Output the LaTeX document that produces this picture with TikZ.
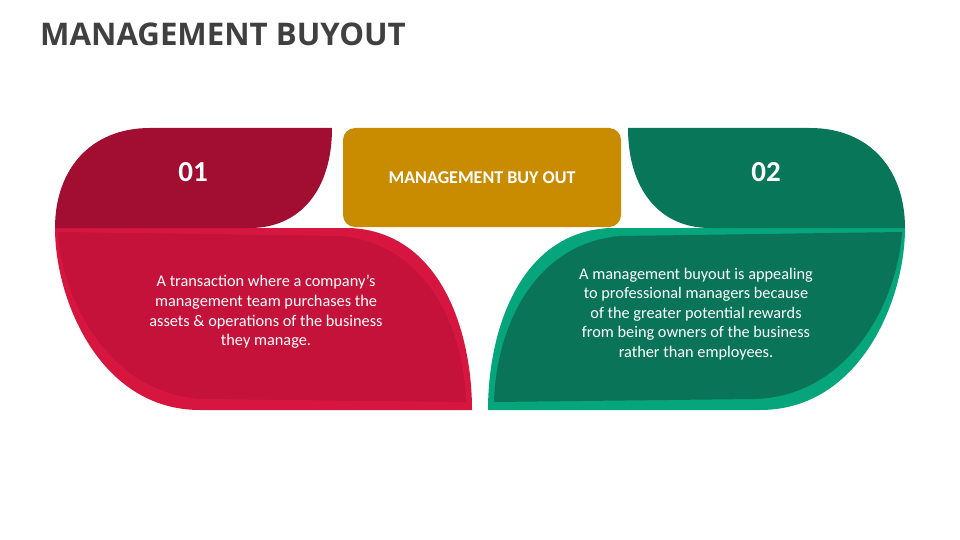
\documentclass[tikz,border=0pt]{standalone}
\usepackage{fontspec}
\setmainfont{Carlito}
\newfontfamily\titlefont{Open Sans}
\definecolor{ttl}{HTML}{404040}
\definecolor{redtop}{HTML}{A10E32}
\definecolor{redout}{HTML}{D7163F}
\definecolor{redin}{HTML}{C4123A}
\definecolor{grtop}{HTML}{087658}
\definecolor{grout}{HTML}{07A57B}
\definecolor{grin}{HTML}{0A7459}
\definecolor{gold}{HTML}{C98B00}
\begin{document}
\begin{tikzpicture}[x=1pt,y=-1pt,
  body/.style={text=white,align=center,font=\fontsize{16.3}{19.6}\selectfont},
  num/.style={text=white,font=\bfseries\fontsize{29}{32}\selectfont}]
\useasboundingbox (0,0) rectangle (960,540);
\node[anchor=west,text=ttl,font=\titlefont\bfseries\fontsize{31.2}{34}\selectfont,inner sep=0pt] (title) at (40,34) {MANAGEMENT BUYOUT};
\foreach \sx/\ct/\co/\ci in {1/redtop/redout/redin,-1/grtop/grout/grin}{
\begin{scope}[xshift={(\sx==1?0:960)*1pt},xscale=\sx]
\fill[\co] (55,228) -- (350,228) .. controls (440,232) and (472,330) .. (472,410) -- (200,410) .. controls (100,410) and (55,300) .. (55,228) -- cycle;
\fill[\ci] (58,232) -- (340,236) .. controls (428,244) and (464,330) .. (466,402) -- (205,399) .. controls (110,396) and (62,300) .. (58,232) -- cycle;
\fill[\ct] (55,228) .. controls (55,170) and (90,128) .. (150,128) -- (332,128) .. controls (332,190) and (300,228) .. (250,228) -- cycle;
\end{scope}}
\fill[gold,rounded corners=12] (343,128) rectangle (621,227);
\node[text=white,font=\bfseries\fontsize{18}{20}\selectfont] (mid) at (482,178) {MANAGEMENT BUY OUT};
\node[num] (n1) at (193,172) {01};
\node[num] (n2) at (766,172) {02};
\node[body] (t1) at (266,312) {A transaction where a company’s\\management team purchases the\\assets \& operations of the business\\they manage.};
\node[body] (t2) at (696,314) {A management buyout is appealing\\to professional managers because\\of the greater potential rewards\\from being owners of the business\\rather than employees.};
\end{tikzpicture}
\end{document}
